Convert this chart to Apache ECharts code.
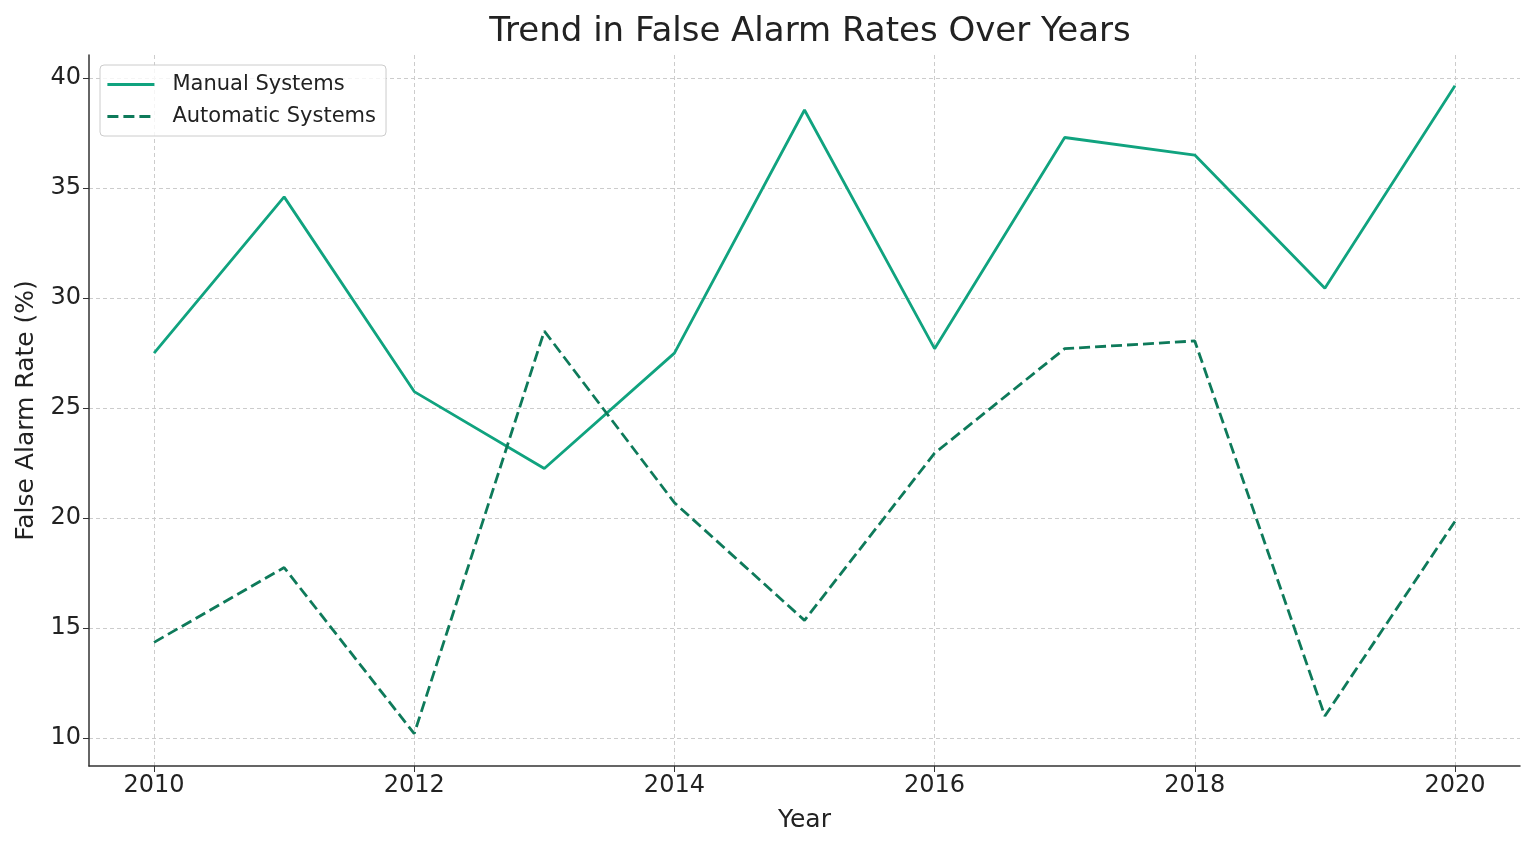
<!DOCTYPE html>
<html>
<head>
<meta charset="utf-8">
<script src="https://cdn.jsdelivr.net/npm/echarts@6/dist/echarts.min.js"></script>
<style>
  html, body { margin: 0; padding: 0; background: #fff; }
  #chart { width: 1536px; height: 848px; }
</style>
</head>
<body>
<div id="chart"></div>
<script>
var years = [2010, 2011, 2012, 2013, 2014, 2015, 2016, 2017, 2018, 2019, 2020];
var manualRates = [27.5, 34.6, 25.75, 22.25, 27.5, 38.55, 27.7, 37.3, 36.5, 30.45, 39.65];
var automaticRates = [14.35, 17.75, 10.2, 28.5, 20.7, 15.35, 22.95, 27.7, 28.05, 11.0, 19.85];
var xTicks = [2010, 2012, 2014, 2016, 2018, 2020];
var yTicks = [10, 15, 20, 25, 30, 35, 40];

var font = "DejaVu Sans";
var myChart = echarts.init(document.getElementById("chart"));

function pairs(vals) {
  return years.map(function (y, i) { return [y, vals[i]]; });
}

var option = {
  animation: false,
  backgroundColor: "#fff",
  title: {
    text: "Trend in False Alarm Rates Over Years",
    left: 805,
    top: 10,
    textAlign: "center",
    textStyle: { fontFamily: font, fontSize: 34, fontWeight: "normal", color: "#222" },
  },
  grid: { left: 89, right: 16, top: 55, bottom: 82 },
  legend: {
    orient: "vertical",
    left: 100,
    top: 65,
    padding: [9, 10, 9, 6],
    itemGap: 11,
    itemWidth: 47,
    itemHeight: 14,
    borderColor: "#ccc",
    borderWidth: 1,
    borderRadius: 4,
    backgroundColor: "rgba(255,255,255,0.8)",
    itemStyle: { opacity: 0 },
    lineStyle: { width: 2.8 },
    textStyle: { fontFamily: font, fontSize: 21, color: "#222", padding: [0, 0, 0, 13] },
    data: ["Manual Systems", "Automatic Systems"],
  },
  xAxis: {
    type: "value",
    min: 2009.5,
    max: 2020.5,
    name: "Year",
    nameLocation: "middle",
    nameGap: 42,
    nameTextStyle: { fontFamily: font, fontSize: 25, color: "#222" },
    axisLine: { lineStyle: { color: "#333", width: 1.5 } },
    axisTick: { show: true, customValues: xTicks, length: 6, lineStyle: { color: "#333" } },
    axisLabel: {
      customValues: xTicks,
      fontFamily: font,
      fontSize: 24,
      color: "#222",
      margin: 8,
      formatter: function (v) { return String(v); },
    },
    splitLine: { show: true, lineStyle: { color: "#ccc", type: [4, 3], width: 1 } },
  },
  yAxis: {
    type: "value",
    min: 8.73,
    max: 41.05,
    name: "False Alarm Rate (%)",
    nameLocation: "middle",
    nameGap: 50,
    nameTextStyle: { fontFamily: font, fontSize: 25, color: "#222" },
    axisLine: { show: true, lineStyle: { color: "#333", width: 1.5 } },
    axisTick: { show: true, customValues: yTicks, length: 6, lineStyle: { color: "#333" } },
    axisLabel: {
      customValues: yTicks,
      fontFamily: font,
      fontSize: 24,
      color: "#222",
      margin: 8,
    },
    splitLine: { show: true, lineStyle: { color: "#ccc", type: [4, 3], width: 1 } },
  },
  series: [
    {
      name: "Manual Systems",
      type: "line",
      data: pairs(manualRates),
      symbol: "none",
      lineStyle: { color: "#10a37f", width: 2.8 },
      itemStyle: { color: "#10a37f" },
    },
    {
      name: "Automatic Systems",
      type: "line",
      data: pairs(automaticRates),
      symbol: "none",
      lineStyle: { color: "#0e7a5a", width: 2.8, type: [11, 5] },
      itemStyle: { color: "#0e7a5a" },
    },
  ],
};
myChart.setOption(option);
</script>
</body>
</html>
